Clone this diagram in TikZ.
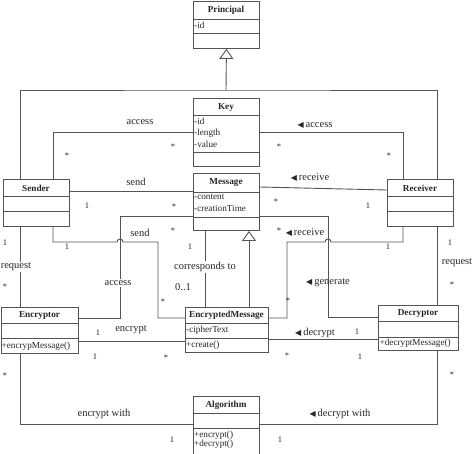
\documentclass[tikz,border=0pt]{standalone}
\usepackage{fontspec}
\setmainfont{Liberation Serif}
\newfontfamily\symfont{DejaVu Sans}
\usetikzlibrary{arrows.meta}
\definecolor{linecol}{gray}{0.33}
\definecolor{txtcol}{gray}{0.15}
\newcommand\tri{{\symfont\fontsize{8}{8}\selectfont ◀}\hspace{2pt}}
\begin{document}
\begin{tikzpicture}[x=1pt,y=-1pt,
  cls/.style={draw=linecol, line width=0.9pt, rectangle, inner sep=0pt, anchor=north west, fill=white},
  conn/.style={draw=linecol, line width=0.9pt},
  sep/.style={draw=linecol, line width=0.9pt},
  ttl/.style={font=\fontsize{9.2}{10}\selectfont\bfseries, text=txtcol, inner sep=0pt},
  attr/.style={font=\fontsize{9.2}{10}\selectfont, text=txtcol, inner sep=0pt, anchor=west},
  lbl/.style={font=\fontsize{10.5}{12}\selectfont, text=txtcol, inner sep=1pt},
  wlbl/.style={lbl, fill=white},
  mult/.style={font=\fontsize{8.5}{10}\selectfont, text=txtcol, inner sep=0pt},
  star/.style={mult, yshift=-2pt},
  gen/.style={-{Triangle[open, length=10pt, width=14pt, line width=0.9pt]}}
]
\useasboundingbox (0,0) rectangle (474,453);

% ---------- class boxes ----------
\node[cls, minimum width=66pt, minimum height=47pt] (principal) at (193,1) {};
\node[cls, minimum width=66pt, minimum height=68pt] (key) at (193,98) {};
\node[cls, minimum width=66pt, minimum height=57pt] (message) at (193,173) {};
\node[cls, minimum width=66pt, minimum height=47pt] (sender) at (3,179) {};
\node[cls, minimum width=66pt, minimum height=47pt] (receiver) at (387,179) {};
\node[cls, minimum width=77pt, minimum height=46pt] (encryptor) at (1,307) {};
\node[cls, minimum width=83pt, minimum height=45pt] (encmsg) at (185,307) {};
\node[cls, minimum width=80pt, minimum height=45pt] (decryptor) at (378,305) {};
\node[cls, minimum width=66pt, minimum height=64pt] (algorithm) at (193,396) {};

% ---------- connectors ----------
\coordinate (gj) at (226,90);
\coordinate (hopA) at (120,242);
\coordinate (s1) at (158,242);
\coordinate (hopB) at (328,242);
\coordinate (r1) at (287,242);

\draw[conn, gen] (gj) -- (principal.south);
\draw[conn] ([xshift=17pt]sender.north west) |- (gj) -| ([xshift=50pt]receiver.north west);

\draw[conn] ([xshift=50pt]sender.north west) |- (key.west);
\draw[conn] (key.east) -| ([xshift=16pt]receiver.north west);

\draw[conn] ([yshift=-12pt]sender.north east) -- ([yshift=-18pt]message.north west);
\draw[conn] ([yshift=-14pt]message.north east) -- ([yshift=-11pt]receiver.north west);

\draw[conn] ([yshift=-43pt]message.north west) -| ([xshift=42pt,yshift=-11pt]encryptor.north east) -- ([yshift=-11pt]encryptor.north east);
\draw[conn] ([xshift=50pt]sender.south west) |- ([xshift=-3pt]hopA) arc[start angle=180, end angle=0, radius=3pt] -- (s1) |- ([yshift=-11pt]encmsg.north west);

\draw[conn] ([yshift=-43pt]message.north east) -| ([xshift=-50pt,yshift=-12pt]decryptor.north west) -- ([yshift=-12pt]decryptor.north west);
\draw[conn] ([xshift=16pt]receiver.south west) |- ([xshift=3pt]hopB) arc[start angle=0, end angle=180, radius=3pt] -- (r1) |- ([yshift=-11pt]encmsg.north east);

\draw[conn] ([xshift=12pt]message.south west) -- ([xshift=20pt]encmsg.north west);
\draw[conn, gen] ([xshift=64pt]encmsg.north west) -- ([xshift=56pt]message.south west);

\draw[conn] ([yshift=-34pt]encryptor.north east) -- ([yshift=-34pt]encmsg.north west);
\draw[conn] ([yshift=-34pt]decryptor.north west) -- ([yshift=-32pt]encmsg.north east);

\draw[conn] ([xshift=17pt]sender.south west) -- ([xshift=19pt]encryptor.north west);
\draw[conn] ([xshift=50pt]receiver.south west) -- ([xshift=59pt]decryptor.north west);

\draw[conn] ([xshift=19pt]encryptor.south west) |- ([yshift=-28pt]algorithm.north west);
\draw[conn] ([xshift=59pt]decryptor.south west) |- ([yshift=-28pt]algorithm.north east);

% ---------- compartments ----------
\draw[sep] (193,19) -- (259,19); \draw[sep] (193,33) -- (259,33);
\draw[sep] (193,115) -- (259,115); \draw[sep] (193,152) -- (259,152);
\draw[sep] (193,192) -- (259,192); \draw[sep] (193,217) -- (259,217);
\draw[sep] (3,196) -- (69,196); \draw[sep] (3,211) -- (69,211);
\draw[sep] (387,196) -- (453,196); \draw[sep] (387,211) -- (453,211);
\draw[sep] (1,323) -- (78,323); \draw[sep] (1,338) -- (78,338);
\draw[sep] (185,323) -- (268,323); \draw[sep] (185,338) -- (268,338);
\draw[sep] (378,321) -- (458,321); \draw[sep] (378,337) -- (458,337);
\draw[sep] (193,413) -- (259,413); \draw[sep] (193,428) -- (259,428);

% ---------- class texts ----------
\node[ttl] (tprincipal) at (226,10) {Principal};
\node[attr] (aprin) at (194,25) {-id};
\node[ttl] (tkey) at (226,107) {Key};
\node[attr] (akey1) at (194,121) {-id};
\node[attr] (akey2) at (194,133) {-length};
\node[attr] (akey3) at (194,144.5) {-value};
\node[ttl] (tmessage) at (226,182) {Message};
\node[attr] (amsg1) at (194,197) {-content};
\node[attr] (amsg2) at (194,208.5) {-creationTime};
\node[ttl] (tsender) at (36,188) {Sender};
\node[ttl] (treceiver) at (420,188) {Receiver};
\node[ttl] (tencryptor) at (39.5,315) {Encryptor};
\node[attr] (menc) at (1.5,346) {+encrypMessage()};
\node[ttl] (tencmsg) at (226.5,315) {EncryptedMessage};
\node[attr] (aem) at (186,330) {-cipherText};
\node[attr] (mem) at (186,345) {+create()};
\node[ttl] (tdecryptor) at (418,313) {Decryptor};
\node[attr] (mdec) at (379.5,343.5) {+decryptMessage()};
\node[ttl] (talgorithm) at (226,405) {Algorithm};
\node[attr] (malg1) at (194,435) {+encrypt()};
\node[attr] (malg2) at (194,444) {+decrypt()};

% ---------- association labels ----------
\node[lbl] (l1) at (140,122) {access};
\node[lbl] (l2) at (315,125) {\tri access};
\node[lbl] (l3) at (136,182) {send};
\node[lbl] (l4) at (310,178) {\tri receive};
\node[lbl] (l5) at (140,233) {send};
\node[lbl] (l6) at (305,233) {\tri receive};
\node[wlbl] (l7) at (118,283) {access};
\node[wlbl] (l8) at (205,267) {corresponds to};
\node[lbl] (l9) at (183,287) {0..1};
\node[lbl] (l10) at (328,283) {\tri generate};
\node[lbl] (l11) at (131,330) {encrypt};
\node[lbl] (l12) at (315,333) {\tri decrypt};
\node[lbl] (l13) at (104,414) {encrypt with};
\node[lbl] (l14) at (340,414) {\tri decrypt with};
\node[wlbl] (l15) at (16,267) {request};
\node[lbl] (l16) at (457,263) {request};

% ---------- multiplicities ----------
\node[star] (m1) at (67,154) {*};
\node[star] (m2) at (173,145) {*};
\node[star] (m3) at (279,145) {*};
\node[star] (m4) at (389,154) {*};
\node[star] (m5) at (174,205) {*};
\node[star] (m6) at (276,200) {*};
\node[star] (m7) at (173,229) {*};
\node[star] (m8) at (279,229) {*};
\node[star] (m9) at (5,285) {*};
\node[star] (m10) at (163,300) {*};
\node[star] (m11) at (288,299) {*};
\node[star] (m12) at (452,283) {*};
\node[star] (m13) at (166,356) {*};
\node[star] (m14) at (287,354) {*};
\node[star] (m15) at (5,374) {*};
\node[star] (m16) at (452,373) {*};
\node[mult] (n1) at (87,206) {1};
\node[mult] (n2) at (368,206) {1};
\node[mult] (n3) at (5,243) {1};
\node[mult] (n4) at (67,247) {1};
\node[mult] (n5) at (190,247) {1};
\node[mult] (n6) at (388,247) {1};
\node[mult] (n7) at (450,243) {1};
\node[mult] (n8) at (98,333) {1};
\node[mult] (n9) at (357,332) {1};
\node[mult] (n10) at (95,357) {1};
\node[mult] (n11) at (360,357) {1};
\node[mult] (n12) at (172,440) {1};
\node[mult] (n13) at (280,440) {1};
\end{tikzpicture}
\end{document}
